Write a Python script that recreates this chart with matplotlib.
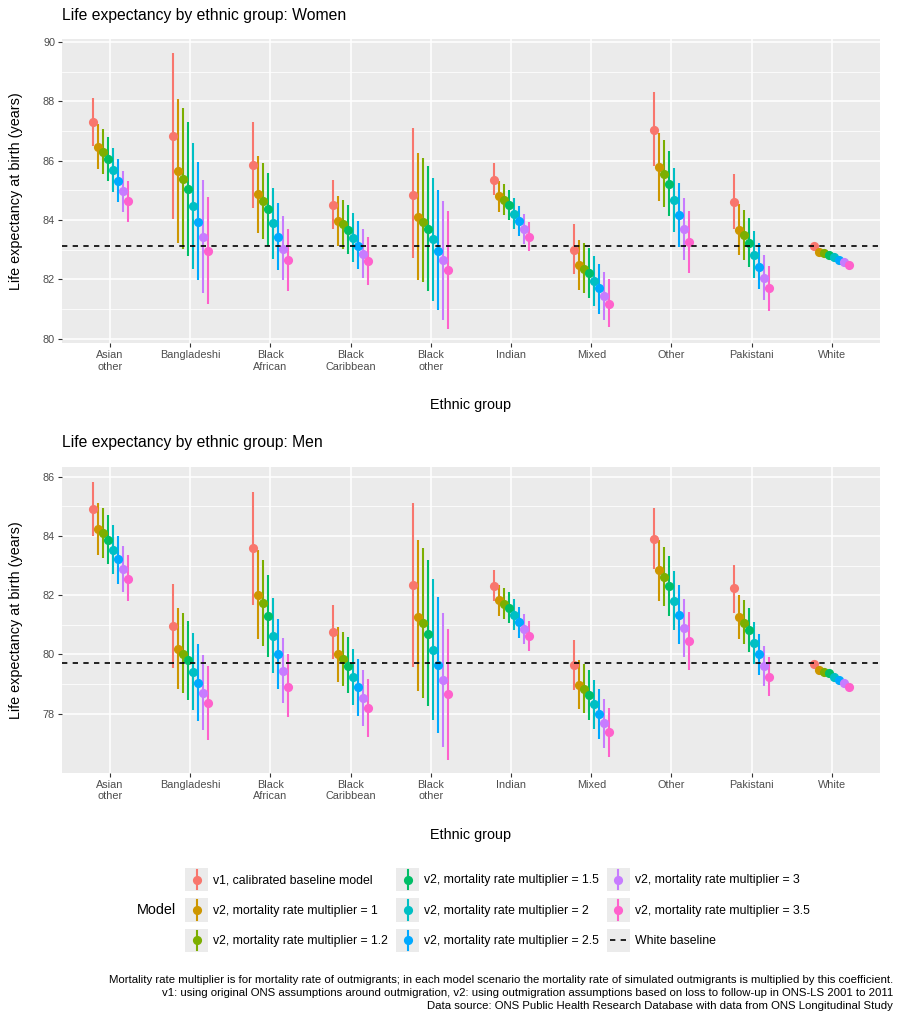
# Life expectancy by ethnic group, women and men, ggplot-like dodged pointranges
import matplotlib
matplotlib.use('Agg')
import matplotlib.pyplot as plt
import numpy as np
from matplotlib.lines import Line2D
from matplotlib.patches import Rectangle
from matplotlib.legend_handler import HandlerBase

plt.rcParams['font.family'] = ['Liberation Sans', 'DejaVu Sans']

groups = ['Asian\nother', 'Bangladeshi', 'Black\nAfrican', 'Black\nCaribbean', 'Black\nother',
          'Indian', 'Mixed', 'Other', 'Pakistani', 'White']
models = ['v1, calibrated baseline model',
          'v2, mortality rate multiplier = 1',
          'v2, mortality rate multiplier = 1.2',
          'v2, mortality rate multiplier = 1.5',
          'v2, mortality rate multiplier = 2',
          'v2, mortality rate multiplier = 2.5',
          'v2, mortality rate multiplier = 3',
          'v2, mortality rate multiplier = 3.5']
colors = ['#F8766D', '#CD9600', '#7CAE00', '#00BE67', '#00BFC4', '#00A9FF', '#C77CFF', '#FF61CC']

# women: estimate, lower, upper (one row per ethnic group, one column per model)
women_est = [
    [87.31, 86.46, 86.30, 86.07, 85.69, 85.32, 84.97, 84.63],
    [86.82, 85.64, 85.39, 85.03, 84.47, 83.93, 83.43, 82.95],
    [85.87, 84.86, 84.64, 84.36, 83.90, 83.43, 83.02, 82.64],
    [84.52, 83.96, 83.86, 83.66, 83.38, 83.13, 82.86, 82.61],
    [84.85, 84.10, 83.93, 83.70, 83.36, 82.97, 82.64, 82.30],
    [85.36, 84.80, 84.67, 84.52, 84.21, 83.96, 83.69, 83.43],
    [83.00, 82.48, 82.36, 82.20, 81.94, 81.70, 81.45, 81.18],
    [87.05, 85.79, 85.54, 85.20, 84.67, 84.17, 83.68, 83.25],
    [84.61, 83.66, 83.48, 83.23, 82.82, 82.43, 82.04, 81.70],
    [83.11, 82.93, 82.88, 82.83, 82.74, 82.66, 82.57, 82.48],
]
women_low = [
    [86.51, 85.72, 85.55, 85.33, 84.95, 84.61, 84.26, 83.94],
    [84.04, 83.22, 83.02, 82.77, 82.36, 81.96, 81.55, 81.17],
    [84.40, 83.56, 83.37, 83.11, 82.70, 82.32, 81.96, 81.60],
    [83.69, 83.13, 83.03, 82.85, 82.58, 82.35, 82.04, 81.80],
    [82.71, 81.98, 81.90, 81.62, 81.28, 80.95, 80.63, 80.31],
    [84.85, 84.27, 84.16, 84.01, 83.70, 83.45, 83.19, 82.94],
    [82.17, 81.64, 81.53, 81.37, 81.10, 80.84, 80.63, 80.38],
    [85.81, 84.65, 84.43, 84.12, 83.59, 83.10, 82.64, 82.21],
    [83.69, 82.82, 82.66, 82.41, 82.03, 81.66, 81.30, 80.94],
    [83.08, 82.90, 82.85, 82.80, 82.71, 82.63, 82.54, 82.45],
]
women_high = [
    [88.12, 87.24, 87.07, 86.81, 86.41, 86.04, 85.66, 85.32],
    [89.64, 88.09, 87.76, 87.32, 86.60, 85.95, 85.35, 84.77],
    [87.32, 86.15, 85.92, 85.59, 85.07, 84.58, 84.12, 83.70],
    [85.36, 84.80, 84.68, 84.52, 84.23, 83.96, 83.69, 83.43],
    [87.09, 86.26, 86.08, 85.83, 85.43, 85.02, 84.65, 84.29],
    [85.92, 85.30, 85.21, 85.02, 84.74, 84.47, 84.20, 83.94],
    [83.86, 83.33, 83.21, 83.05, 82.77, 82.52, 82.26, 82.02],
    [88.31, 86.94, 86.69, 86.33, 85.76, 85.25, 84.74, 84.31],
    [85.55, 84.55, 84.34, 84.07, 83.63, 83.21, 82.82, 82.46],
    [83.14, 82.96, 82.91, 82.86, 82.77, 82.69, 82.60, 82.51],
]
women_baseline = 83.12

# men
men_est = [
    [84.92, 84.23, 84.09, 83.88, 83.54, 83.22, 82.89, 82.56],
    [80.96, 80.20, 80.03, 79.81, 79.42, 79.05, 78.71, 78.36],
    [83.58, 82.01, 81.72, 81.31, 80.63, 80.02, 79.44, 78.90],
    [80.75, 80.00, 79.84, 79.62, 79.25, 78.89, 78.54, 78.20],
    [82.34, 81.28, 81.05, 80.70, 80.15, 79.65, 79.14, 78.66],
    [82.32, 81.83, 81.71, 81.58, 81.32, 81.08, 80.85, 80.62],
    [79.63, 78.98, 78.84, 78.64, 78.33, 78.00, 77.67, 77.38],
    [83.90, 82.85, 82.62, 82.32, 81.81, 81.32, 80.88, 80.45],
    [82.23, 81.27, 81.07, 80.82, 80.40, 80.00, 79.60, 79.24],
    [79.67, 79.47, 79.42, 79.36, 79.25, 79.13, 79.02, 78.89],
]
men_low = [
    [84.01, 83.37, 83.24, 83.04, 82.72, 82.38, 82.10, 81.80],
    [79.53, 78.84, 78.70, 78.46, 78.12, 77.77, 77.44, 77.12],
    [81.67, 80.51, 80.28, 79.92, 79.36, 78.85, 78.35, 77.88],
    [79.84, 79.07, 78.93, 78.70, 78.31, 77.93, 77.59, 77.23],
    [79.58, 78.75, 78.53, 78.25, 77.80, 77.34, 76.89, 76.45],
    [81.79, 81.30, 81.21, 81.07, 80.81, 80.56, 80.34, 80.10],
    [78.79, 78.16, 78.02, 77.80, 77.49, 77.16, 76.85, 76.54],
    [82.89, 81.82, 81.62, 81.31, 80.82, 80.36, 79.90, 79.47],
    [81.41, 80.52, 80.35, 80.09, 79.69, 79.30, 78.93, 78.59],
    [79.64, 79.44, 79.39, 79.33, 79.22, 79.10, 78.99, 78.86],
]
men_high = [
    [85.83, 85.10, 84.93, 84.72, 84.36, 84.01, 83.67, 83.34],
    [82.38, 81.58, 81.39, 81.14, 80.72, 80.34, 79.97, 79.62],
    [85.49, 83.54, 83.20, 82.68, 81.90, 81.21, 80.56, 80.00],
    [81.67, 80.94, 80.77, 80.58, 80.20, 79.83, 79.49, 79.16],
    [85.11, 83.88, 83.58, 83.18, 82.55, 81.95, 81.39, 80.87],
    [82.86, 82.36, 82.25, 82.10, 81.86, 81.60, 81.38, 81.14],
    [80.49, 79.81, 79.67, 79.49, 79.15, 78.82, 78.51, 78.20],
    [84.93, 83.85, 83.63, 83.32, 82.81, 82.33, 81.86, 81.44],
    [83.03, 82.01, 81.84, 81.56, 81.10, 80.69, 80.29, 79.92],
    [79.70, 79.50, 79.45, 79.39, 79.28, 79.16, 79.05, 78.92],
]
men_baseline = 79.70

caption = ("Mortality rate multiplier is for mortality rate of outmigrants; in each model scenario "
           "the mortality rate of simulated outmigrants is multiplied by this coefficient.\n"
           "v1: using original ONS assumptions around outmigration, v2: using outmigration assumptions "
           "based on loss to follow-up in ONS-LS 2001 to 2011\n"
           "Data source: ONS Public Health Research Database with data from ONS Longitudinal Study")

PANEL = '#EBEBEB'
DASH = (0, (3.2, 3.2))


def draw_panel(ax, est, low, high, baseline, title, ylim, yticks):
    est = np.array(est)
    low = np.array(low)
    high = np.array(high)
    x = np.arange(len(groups))
    n = len(models)
    step = 0.5 / n
    for j in range(n):
        xs = x + (j - (n - 1) / 2) * step
        ax.vlines(xs, low[:, j], high[:, j], color=colors[j], lw=1.5, zorder=2)
        ax.plot(xs, est[:, j], 'o', color=colors[j], ms=6.6, mec='none', zorder=3)
    ax.axhline(baseline, color='black', ls=DASH, lw=1.2, zorder=4)

    ax.set_facecolor(PANEL)
    ax.set_xlim(-0.6, len(groups) - 0.4)
    ax.set_ylim(*ylim)
    ax.set_xticks(x)
    ax.set_xticklabels(groups)
    ax.set_yticks(yticks)
    ax.set_yticks(np.array(yticks[:-1]) + 1, minor=True)
    ax.set_axisbelow(True)
    ax.grid(which='major', color='white', lw=1.1)
    ax.grid(which='minor', axis='y', color='white', lw=0.55)
    for s in ax.spines.values():
        s.set_visible(False)
    ax.tick_params(which='major', length=3, width=0.8, color='#333333',
                   labelcolor='#4D4D4D', labelsize=7.8, pad=2)
    ax.tick_params(which='minor', length=0)
    ax.set_xlabel('Ethnic group', fontsize=10.4, labelpad=19)
    ax.set_ylabel('Life expectancy at birth (years)', fontsize=10.4, labelpad=14)
    ax.set_title(title, loc='left', fontsize=11.3, pad=14)


class KeyHandler(HandlerBase):
    def create_artists(self, legend, orig_handle, xdescent, ydescent, width, height, fontsize, trans):
        x0, y0 = -xdescent, -ydescent
        bg = Rectangle((x0, y0), width, height, facecolor=PANEL, edgecolor='none', transform=trans)
        cx, cy = x0 + width / 2, y0 + height / 2
        if orig_handle.get_linestyle() == '--':
            ln = Line2D([x0 + 2, x0 + width - 2], [cy, cy], color='black', ls=DASH, lw=1.2,
                        transform=trans)
            return [bg, ln]
        col = orig_handle.get_color()
        ln = Line2D([cx, cx], [y0 + 1.5, y0 + height - 1.5], color=col, lw=1.5, transform=trans)
        pt = Line2D([cx], [cy], marker='o', color=col, ms=6.6, mec='none', ls='none',
                    transform=trans)
        return [bg, ln, pt]


fig = plt.figure(figsize=(9.02, 10.28), dpi=100)
ax1 = fig.add_axes([0.0687, 0.6663, 0.9069, 0.2957])
ax2 = fig.add_axes([0.0687, 0.2481, 0.9069, 0.2977])

draw_panel(ax1, women_est, women_low, women_high, women_baseline,
           'Life expectancy by ethnic group: Women', (79.85, 90.1), [80, 82, 84, 86, 88, 90])
draw_panel(ax2, men_est, men_low, men_high, men_baseline,
           'Life expectancy by ethnic group: Men', (76.0, 86.33), [78, 80, 82, 84, 86])

handles = [Line2D([], [], color=c) for c in colors] + [Line2D([], [], color='black', ls='--')]
labels = models + ['White baseline']
fig.legend(handles, labels, handler_map={Line2D: KeyHandler()}, ncol=3, frameon=False,
           loc='center left', bbox_to_anchor=(185 / 902, 1 - 910 / 1028), fontsize=8.8,
           handlelength=1.9, handleheight=2.6, handletextpad=0.4, labelspacing=0.55,
           columnspacing=0.65, borderpad=0, borderaxespad=0)
fig.text(137 / 902, 1 - 910 / 1028, 'Model', fontsize=10.4, va='center', ha='left')

fig.text(893 / 902, 1 - 993 / 1028, caption, fontsize=8.2, ha='right', va='center',
         linespacing=1.38)

fig.savefig('out.png', dpi=100)
